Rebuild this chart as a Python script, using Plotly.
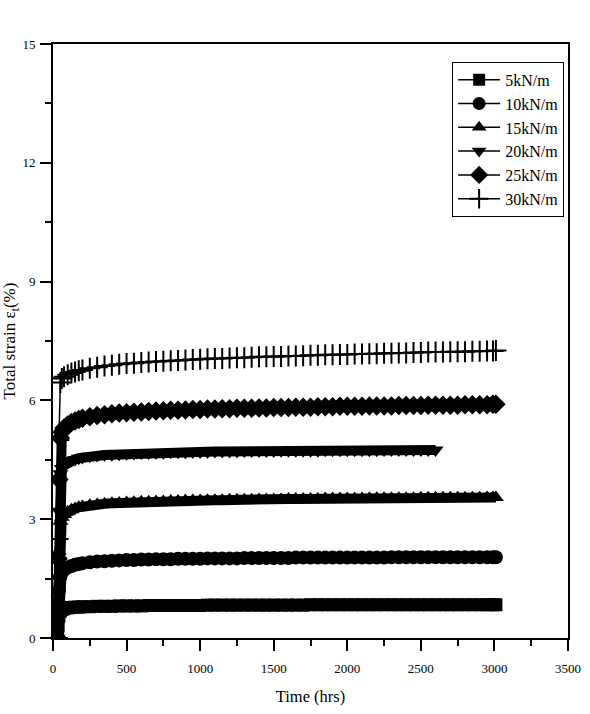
import plotly.graph_objects as go

# Sampling times (hrs)
TIME_HRS = [30, 35, 40, 50, 60, 75, 100, 125, 150, 175, 200,
            250, 300, 350, 400, 450, 500, 550, 600, 650, 700,
            750, 800, 850, 900, 950, 1000, 1050, 1100, 1150, 1200,
            1250, 1300, 1350, 1400, 1450, 1500, 1550, 1600, 1650, 1700,
            1750, 1800, 1850, 1900, 1950, 2000, 2050, 2100, 2150, 2200,
            2250, 2300, 2350, 2400, 2450, 2500, 2550, 2600, 2650, 2700,
            2750, 2800, 2850, 2900, 2950, 2990,
            3010]

S5 = [0.0, 0.30, 0.55, 0.68, 0.72, 0.74, 0.76, 0.77, 0.78, 0.78, 0.79,
      0.79, 0.80, 0.80, 0.80, 0.81, 0.81, 0.81, 0.81, 0.82, 0.82,
      0.82, 0.82, 0.82, 0.82, 0.82, 0.82, 0.83, 0.83, 0.83, 0.83,
      0.83, 0.83, 0.83, 0.83, 0.83, 0.83, 0.83, 0.83, 0.83, 0.83,
      0.84, 0.84, 0.84, 0.84, 0.84, 0.84, 0.84, 0.84, 0.84, 0.84,
      0.84, 0.84, 0.84, 0.84, 0.84, 0.84, 0.84, 0.84, 0.84, 0.84,
      0.84, 0.84, 0.84, 0.84, 0.84, 0.84,
      0.84]

S10 = [0.0, 0.60, 1.20, 1.55, 1.65, 1.72, 1.78, 1.82, 1.85, 1.87, 1.89,
       1.91, 1.93, 1.94, 1.95, 1.96, 1.97, 1.97, 1.98, 1.98, 1.99,
       1.99, 1.99, 2.00, 2.00, 2.00, 2.00, 2.01, 2.01, 2.01, 2.01,
       2.01, 2.02, 2.02, 2.02, 2.02, 2.02, 2.02, 2.02, 2.03, 2.03,
       2.03, 2.03, 2.03, 2.03, 2.03, 2.03, 2.03, 2.03, 2.03, 2.03,
       2.03, 2.04, 2.04, 2.04, 2.04, 2.04, 2.04, 2.04, 2.04, 2.04,
       2.04, 2.04, 2.04, 2.04, 2.04, 2.04,
       2.04]

S15 = [0.0, 1.00, 2.20, 2.95, 3.05, 3.12, 3.19, 3.24, 3.27, 3.30, 3.32,
       3.35, 3.37, 3.39, 3.40, 3.41, 3.42, 3.43, 3.44, 3.44, 3.45,
       3.45, 3.46, 3.46, 3.47, 3.47, 3.47, 3.48, 3.48, 3.48, 3.49,
       3.49, 3.49, 3.49, 3.50, 3.50, 3.50, 3.50, 3.51, 3.51, 3.51,
       3.51, 3.51, 3.52, 3.52, 3.52, 3.52, 3.52, 3.52, 3.53, 3.53,
       3.53, 3.53, 3.53, 3.53, 3.53, 3.54, 3.54, 3.54, 3.54, 3.54,
       3.54, 3.54, 3.54, 3.54, 3.55, 3.55,
       3.55]

S20 = [0.0, 1.50, 3.20, 4.15, 4.28, 4.36, 4.43, 4.48, 4.51, 4.54, 4.56,
       4.59, 4.61, 4.62, 4.63, 4.64, 4.65, 4.66, 4.67, 4.67, 4.68,
       4.68, 4.69, 4.69, 4.69, 4.70, 4.70, 4.70, 4.71, 4.71, 4.71,
       4.71, 4.72, 4.72, 4.72, 4.72, 4.72, 4.73, 4.73, 4.73, 4.73,
       4.73, 4.73, 4.74, 4.74, 4.74, 4.74, 4.74, 4.74, 4.74, 4.74,
       4.75, 4.75, 4.75, 4.75, 4.75, 4.75, 4.75, 4.75]

S25 = [0.0, 2.00, 4.00, 5.05, 5.20, 5.30, 5.38, 5.44, 5.48, 5.52, 5.55,
       5.59, 5.62, 5.64, 5.66, 5.68, 5.69, 5.70, 5.71, 5.72, 5.73,
       5.74, 5.75, 5.75, 5.76, 5.77, 5.77, 5.78, 5.78, 5.79, 5.79,
       5.80, 5.80, 5.80, 5.81, 5.81, 5.82, 5.82, 5.82, 5.83, 5.83,
       5.83, 5.84, 5.84, 5.84, 5.85, 5.85, 5.85, 5.85, 5.86, 5.86,
       5.86, 5.86, 5.87, 5.87, 5.87, 5.87, 5.88, 5.88, 5.88, 5.88,
       5.88, 5.89, 5.89, 5.89, 5.89, 5.90,
       5.90]

S30 = [0.0, 2.50, 5.00, 6.45, 6.55, 6.60, 6.65, 6.69, 6.72, 6.75, 6.77,
       6.81, 6.84, 6.87, 6.89, 6.91, 6.93, 6.94, 6.96, 6.97, 6.98,
       6.99, 7.00, 7.01, 7.02, 7.03, 7.04, 7.05, 7.06, 7.06, 7.07,
       7.08, 7.08, 7.09, 7.10, 7.10, 7.11, 7.11, 7.12, 7.12, 7.13,
       7.14, 7.14, 7.15, 7.15, 7.16, 7.16, 7.17, 7.17, 7.18, 7.18,
       7.19, 7.19, 7.20, 7.20, 7.21, 7.21, 7.22, 7.22, 7.22, 7.23,
       7.23, 7.23, 7.24, 7.24, 7.25, 7.25,
       7.26]

SERIES = [
    ("5kN/m", S5, "square", 13),
    ("10kN/m", S10, "circle", 14),
    ("15kN/m", S15, "triangle-up", 14),
    ("20kN/m", S20, "triangle-down", 14),
    ("25kN/m", S25, "diamond", 15),
    ("30kN/m", S30, "cross-thin", 15),
]
LEGEND_MARKER_SIZE = {"square": 12, "circle": 13, "triangle-up": 13,
                      "triangle-down": 13, "diamond": 14, "cross-thin": 14}

X_TICKS = [0, 500, 1000, 1500, 2000, 2500, 3000, 3500]
Y_TICKS = [0, 3, 6, 9, 12, 15]

FONT = "Liberation Serif"

fig = go.Figure()
for name, vals, sym, size in SERIES:
    xs = TIME_HRS[:len(vals)]
    solid = sym != "cross-thin"
    marker = dict(symbol=sym, size=size, color="black")
    if not solid:
        marker["line"] = dict(color="black", width=2)
    # dense data band (the measured points are so close they merge)
    fig.add_trace(go.Scatter(
        x=xs, y=vals, mode="lines+markers", showlegend=False, hoverinfo="skip",
        line=dict(color="black", width=10 if solid else 1.5), marker=marker,
    ))
    # legend entry
    lm = dict(symbol=sym, size=LEGEND_MARKER_SIZE[sym], color="black")
    if not solid:
        lm["line"] = dict(color="black", width=2)
    fig.add_trace(go.Scatter(
        x=[None], y=[None], name=name, mode="lines+markers",
        line=dict(color="black", width=1.5), marker=lm,
    ))

axis_common = dict(
    showline=True, linecolor="black", linewidth=2, mirror=True,
    ticks="outside", tickcolor="black", tickwidth=2, ticklen=11,
    showgrid=False, zeroline=False, automargin=False,
    tickfont=dict(family=FONT, size=13, color="black"),
)

fig.update_xaxes(
    range=[0, 3500], tickvals=X_TICKS, ticktext=[str(v) for v in X_TICKS],
    minor=dict(dtick=250, ticks="outside", ticklen=6, tickwidth=2, tickcolor="black"),
    ticklabelstandoff=6,
    title=dict(text="Time (hrs)", font=dict(family=FONT, size=16.5, color="black"), standoff=16),
    **axis_common,
)
fig.update_yaxes(
    range=[0, 15], tickvals=Y_TICKS, ticktext=[str(v) for v in Y_TICKS],
    minor=dict(dtick=1.5, ticks="outside", ticklen=6, tickwidth=2, tickcolor="black"),
    ticklabelstandoff=2,
    title=dict(text="Total strain ε<sub>t</sub>(%)", font=dict(family=FONT, size=17, color="black"), standoff=8),
    **axis_common,
)

fig.update_layout(
    width=590, height=714,
    margin=dict(l=53, r=22, t=44, b=76),
    paper_bgcolor="white", plot_bgcolor="white",
    showlegend=True,
    legend=dict(
        x=0.775, y=0.97, xanchor="left", yanchor="top",
        bgcolor="white", bordercolor="black", borderwidth=1,
        font=dict(family=FONT, size=16, color="black"),
        tracegroupgap=0, itemwidth=42,
    ),
)

fig.write_html("out.html")
